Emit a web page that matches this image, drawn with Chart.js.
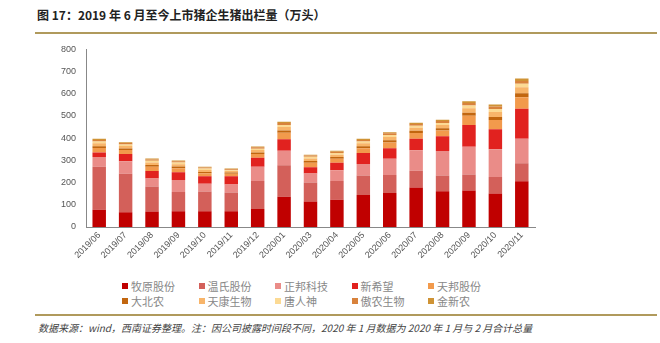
<!DOCTYPE html>
<html>
<head>
<meta charset="utf-8">
<script src="https://cdn.jsdelivr.net/npm/chart.js@4.4.1/dist/chart.umd.min.js"></script>
<style>
    body { margin: 0; background: #fff; font-family: "Noto Sans CJK SC", "Noto Sans", sans-serif; }
    #page { position: relative; width: 660px; height: 343px; overflow: hidden; }
    #title { position: absolute; left: 37px; top: 6px; font-size: 12px; font-weight: bold; color: #222; }
    .rule { position: absolute; left: 35px; width: 622px; height: 2px; background: #b09a5c; }
    #chart-box { position: absolute; left: 0; top: 34px; width: 545px; height: 238px; }
    #legend { position: absolute; left: 122px; top: 279px; width: 400px; }
    .item { position: absolute; font-size: 11px; color: #888; white-space: nowrap; line-height: 14px; }
    .item span { display: inline-block; width: 6px; height: 6px; margin-right: 3px; vertical-align: 2px; }
    #source { position: absolute; left: 38px; top: 320px; font-size: 10px; font-style: italic; color: #444; white-space: nowrap; }
</style>
</head>
<body>
<div id="page">
    <div id="title">图 17：2019 年 6 月至今上市猪企生猪出栏量（万头）</div>
    <div class="rule" style="top: 32px;"></div>
    <div id="chart-box"><canvas id="chuLan"></canvas></div>
    <div id="legend"></div>
    <div class="rule" style="top: 314px;"></div>
    <div id="source">数据来源：wind，西南证券整理。注：因公司披露时间段不同，2020 年 1 月数据为 2020 年 1 月与 2 月合计总量</div>
</div>

<script>
// thang (x axis)
var thang = ['2019/06', '2019/07', '2019/08', '2019/09', '2019/10', '2019/11', '2019/12', '2020/01', '2020/03',
             '2020/04', '2020/05', '2020/06', '2020/07', '2020/08', '2020/09', '2020/10', '2020/11'];

// gia tri (万头), tu duoi len tren
var muYuan    = [78, 67, 70, 71, 71, 71, 81, 136, 115, 123, 144, 153, 178, 161, 164, 151, 206];
var wenShi    = [193, 173, 112, 87, 89, 84, 126, 142, 85, 84, 88, 81, 75, 71, 72, 74, 81];
var zhengBang = [44, 56, 36, 54, 35, 37, 64, 65, 41, 49, 52, 73, 93, 110, 125, 125, 111];
var xinXiWang = [21, 33, 34, 35, 34, 37, 41, 52, 28, 33, 49, 48, 52, 67, 98, 90, 135];
var tianBang  = [20, 18, 19, 18, 13, 11, 17, 30, 20, 18, 22, 26, 25, 26, 42, 42, 52];
var daBeiNong = [8, 7, 8, 7, 6, 5, 7, 10, 8, 8, 9, 10, 10, 10, 14, 14, 18];
var tianKang  = [13, 11, 12, 11, 9, 7, 11, 16, 12, 11, 13, 14, 14, 15, 20, 22, 27];
var tangRenShen = [8, 7, 7, 7, 6, 4, 6, 9, 7, 7, 8, 9, 9, 9, 12, 13, 15];
var aoNong    = [7, 6, 6, 6, 5, 4, 6, 8, 6, 6, 7, 8, 8, 8, 12, 12, 13];
var jinXinNong = [5, 4, 4, 4, 3, 3, 4, 6, 4, 4, 5, 5, 6, 6, 8, 9, 11];

var yTicks = [0, 100, 200, 300, 400, 500, 600, 700, 800];

var tenCongTy = ['牧原股份', '温氏股份', '正邦科技', '新希望', '天邦股份', '大北农', '天康生物', '唐人神', '傲农生物', '金新农'];
var duLieu = [muYuan, wenShi, zhengBang, xinXiWang, tianBang, daBeiNong, tianKang, tangRenShen, aoNong, jinXinNong];
var mauSac = ['#c00000', '#d3605a', '#ea8c88', '#e1221f', '#f29a4c', '#c2660f', '#f8b56a', '#fcda94', '#d8823c', '#cf9335'];

var datasets = [];
for (var i = 0; i < tenCongTy.length; i++) {
    datasets.push({
        label: tenCongTy[i],
        data: duLieu[i],
        backgroundColor: mauSac[i],
        borderWidth: 0,
        barPercentage: 0.51,
        categoryPercentage: 1.0
    });
}

// legend html, 5 cot x 2 hang
var legendHtml = '';
for (var j = 0; j < tenCongTy.length; j++) {
    var col = j % 5, row = Math.floor(j / 5);
    legendHtml += '<div class="item" style="left:' + (col * 76.5) + 'px;top:' + (row * 15) + 'px">' +
        '<span style="background:' + mauSac[j] + '"></span>' + tenCongTy[j] + '</div>';
}
document.getElementById('legend').innerHTML = legendHtml;

var ctx = document.getElementById('chuLan');
var chuLanChart = new Chart(ctx, {
    type: 'bar',
    data: {
        labels: thang,
        datasets: datasets
    },
    options: {
        responsive: true,
        maintainAspectRatio: false,
        animation: false,
        layout: { padding: { top: 1, right: 10, left: 0, bottom: 0 } },
        plugins: {
            legend: { display: false },
            tooltip: { enabled: false }
        },
        scales: {
            x: {
                stacked: true,
                grid: { display: false, drawTicks: false },
                border: { color: '#888', width: 1 },
                ticks: {
                    color: '#555',
                    font: { size: 9, family: 'Liberation Sans' },
                    minRotation: 45,
                    maxRotation: 45,
                    padding: 3
                },
                afterFit: function(scale) { scale.height = 45; }
            },
            y: {
                stacked: true,
                min: 0,
                max: 800,
                afterBuildTicks: function(scale) {
                    scale.ticks = yTicks.map(function(v) { return { value: v }; });
                },
                grid: { display: false, drawTicks: false },
                border: { color: '#888', width: 1 },
                ticks: {
                    color: '#555',
                    font: { size: 9, family: 'Liberation Sans' },
                    padding: 10
                },
                afterFit: function(scale) { scale.width = 86; }
            }
        }
    }
});
</script>
</body>
</html>
